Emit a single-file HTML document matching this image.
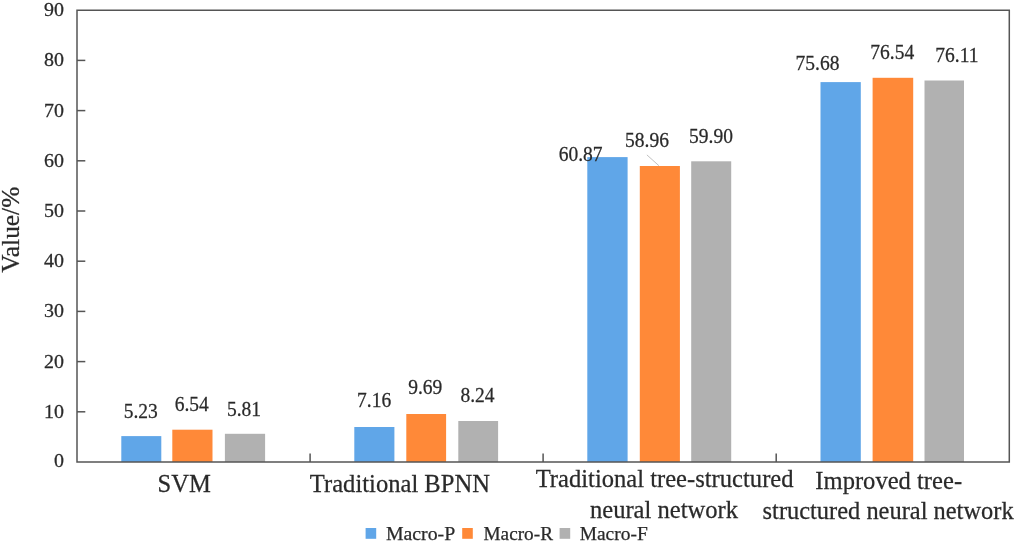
<!DOCTYPE html>
<html><head><meta charset="utf-8"><title>Chart</title>
<style>
html,body{margin:0;padding:0;background:#fff;}
body{width:1016px;height:543px;overflow:hidden;}
svg{display:block;font-family:"Liberation Serif","Times New Roman",serif;}
text{fill:#2a2a2a;stroke:#2a2a2a;stroke-width:0.25px;}
svg{filter:blur(0.55px);}
</style></head><body>
<svg width="1016" height="543" viewBox="0 0 1016 543">
<rect width="1016" height="543" fill="#fff"/>
<rect x="121.3" y="436.1" width="40" height="25.9" fill="#60A6E8"/>
<rect x="172.3" y="429.7" width="40.2" height="32.3" fill="#FF8938"/>
<rect x="224.9" y="433.8" width="40.2" height="28.2" fill="#B1B1B1"/>
<rect x="354.3" y="427.0" width="40.1" height="35.0" fill="#60A6E8"/>
<rect x="406.3" y="414.0" width="39.8" height="48.0" fill="#FF8938"/>
<rect x="458.3" y="421.0" width="39.8" height="41.0" fill="#B1B1B1"/>
<rect x="587.3" y="157.1" width="40.3" height="304.9" fill="#60A6E8"/>
<rect x="639.8" y="166.0" width="40.1" height="296.0" fill="#FF8938"/>
<rect x="691.2" y="161.3" width="40" height="300.7" fill="#B1B1B1"/>
<rect x="820.5" y="82.1" width="40.3" height="379.9" fill="#60A6E8"/>
<rect x="872.6" y="77.8" width="40.6" height="384.2" fill="#FF8938"/>
<rect x="924.5" y="80.5" width="39.5" height="381.5" fill="#B1B1B1"/>
<line x1="646.9" y1="154.9" x2="658.9" y2="165.7" stroke="#b0b0b0" stroke-width="0.8"/>
<path d="M77.0,462.0 L77.0,10.2 L1009.3,10.2 L1009.3,462.0 Z" fill="none" stroke="#555" stroke-width="1.5"/>
<line x1="77.0" y1="411.8" x2="85.3" y2="411.8" stroke="#555" stroke-width="1.5"/>
<line x1="77.0" y1="361.6" x2="85.3" y2="361.6" stroke="#555" stroke-width="1.5"/>
<line x1="77.0" y1="311.4" x2="85.3" y2="311.4" stroke="#555" stroke-width="1.5"/>
<line x1="77.0" y1="261.2" x2="85.3" y2="261.2" stroke="#555" stroke-width="1.5"/>
<line x1="77.0" y1="211.0" x2="85.3" y2="211.0" stroke="#555" stroke-width="1.5"/>
<line x1="77.0" y1="160.8" x2="85.3" y2="160.8" stroke="#555" stroke-width="1.5"/>
<line x1="77.0" y1="110.6" x2="85.3" y2="110.6" stroke="#555" stroke-width="1.5"/>
<line x1="77.0" y1="60.4" x2="85.3" y2="60.4" stroke="#555" stroke-width="1.5"/>
<text transform="translate(64,467.4) scale(1.05,1)" font-size="19" text-anchor="end">0</text>
<text transform="translate(64,417.8) scale(1.05,1)" font-size="19" text-anchor="end">10</text>
<text transform="translate(64,367.6) scale(1.05,1)" font-size="19" text-anchor="end">20</text>
<text transform="translate(64,317.4) scale(1.05,1)" font-size="19" text-anchor="end">30</text>
<text transform="translate(64,267.2) scale(1.05,1)" font-size="19" text-anchor="end">40</text>
<text transform="translate(64,217.0) scale(1.05,1)" font-size="19" text-anchor="end">50</text>
<text transform="translate(64,166.8) scale(1.05,1)" font-size="19" text-anchor="end">60</text>
<text transform="translate(64,116.6) scale(1.05,1)" font-size="19" text-anchor="end">70</text>
<text transform="translate(64,66.4) scale(1.05,1)" font-size="19" text-anchor="end">80</text>
<text transform="translate(64,15.6) scale(1.05,1)" font-size="19" text-anchor="end">90</text>
<line x1="310.1" y1="462.0" x2="310.1" y2="453.5" stroke="#555" stroke-width="1.5"/>
<line x1="543.1" y1="462.0" x2="543.1" y2="453.5" stroke="#555" stroke-width="1.5"/>
<line x1="776.2" y1="462.0" x2="776.2" y2="453.5" stroke="#555" stroke-width="1.5"/>
<text transform="translate(18.7,229.7) rotate(-90)" font-size="25.4" text-anchor="middle">Value/%</text>
<text transform="translate(140.8,418.3) scale(0.975,1)" font-size="20" text-anchor="middle">5.23</text>
<text transform="translate(191.7,411.0) scale(0.975,1)" font-size="20" text-anchor="middle">6.54</text>
<text transform="translate(244,415.8) scale(0.975,1)" font-size="20" text-anchor="middle">5.81</text>
<text transform="translate(374.1,407.40000000000003) scale(0.975,1)" font-size="20" text-anchor="middle">7.16</text>
<text transform="translate(425.2,394.0) scale(0.975,1)" font-size="20" text-anchor="middle">9.69</text>
<text transform="translate(477.5,402.3) scale(0.975,1)" font-size="20" text-anchor="middle">8.24</text>
<text transform="translate(580.6,160.9) scale(0.975,1)" font-size="20" text-anchor="middle">60.87</text>
<text transform="translate(647,147.10000000000002) scale(0.975,1)" font-size="20" text-anchor="middle">58.96</text>
<text transform="translate(711,142.5) scale(0.975,1)" font-size="20" text-anchor="middle">59.90</text>
<text transform="translate(817.5,70.3) scale(0.975,1)" font-size="20" text-anchor="middle">75.68</text>
<text transform="translate(892.3,59.3) scale(0.975,1)" font-size="20" text-anchor="middle">76.54</text>
<text transform="translate(956.9,62.099999999999994) scale(0.975,1)" font-size="20" text-anchor="middle">76.11</text>
<text transform="translate(184.1,491.5) scale(1.012,1)" font-size="24.3" text-anchor="middle">SVM</text>
<text transform="translate(399.9,491.9) scale(1.012,1)" font-size="24.3" text-anchor="middle">Traditional BPNN</text>
<text transform="translate(664.6,487.2) scale(1.012,1)" font-size="24.3" text-anchor="middle">Traditional tree-structured</text>
<text transform="translate(664,518.2) scale(1.012,1)" font-size="24.3" text-anchor="middle">neural network</text>
<text transform="translate(888.7,489) scale(1.012,1)" font-size="24.3" text-anchor="middle">Improved tree-</text>
<text transform="translate(888.1,519.2) scale(1.006,1)" font-size="24.3" text-anchor="middle">structured neural network</text>
<rect x="365.6" y="528" width="10.6" height="10.8" fill="#60A6E8"/>
<text x="385.9" y="539.6" font-size="19.3" textLength="69.3" lengthAdjust="spacingAndGlyphs">Macro-P</text>
<rect x="462.2" y="528" width="10.6" height="10.8" fill="#FF8938"/>
<text x="483.5" y="539.6" font-size="19.3" textLength="69.5" lengthAdjust="spacingAndGlyphs">Macro-R</text>
<rect x="559.6" y="528" width="10.6" height="10.8" fill="#B1B1B1"/>
<text x="579.7" y="539.6" font-size="19.3" textLength="68" lengthAdjust="spacingAndGlyphs">Macro-F</text>
</svg></body></html>
